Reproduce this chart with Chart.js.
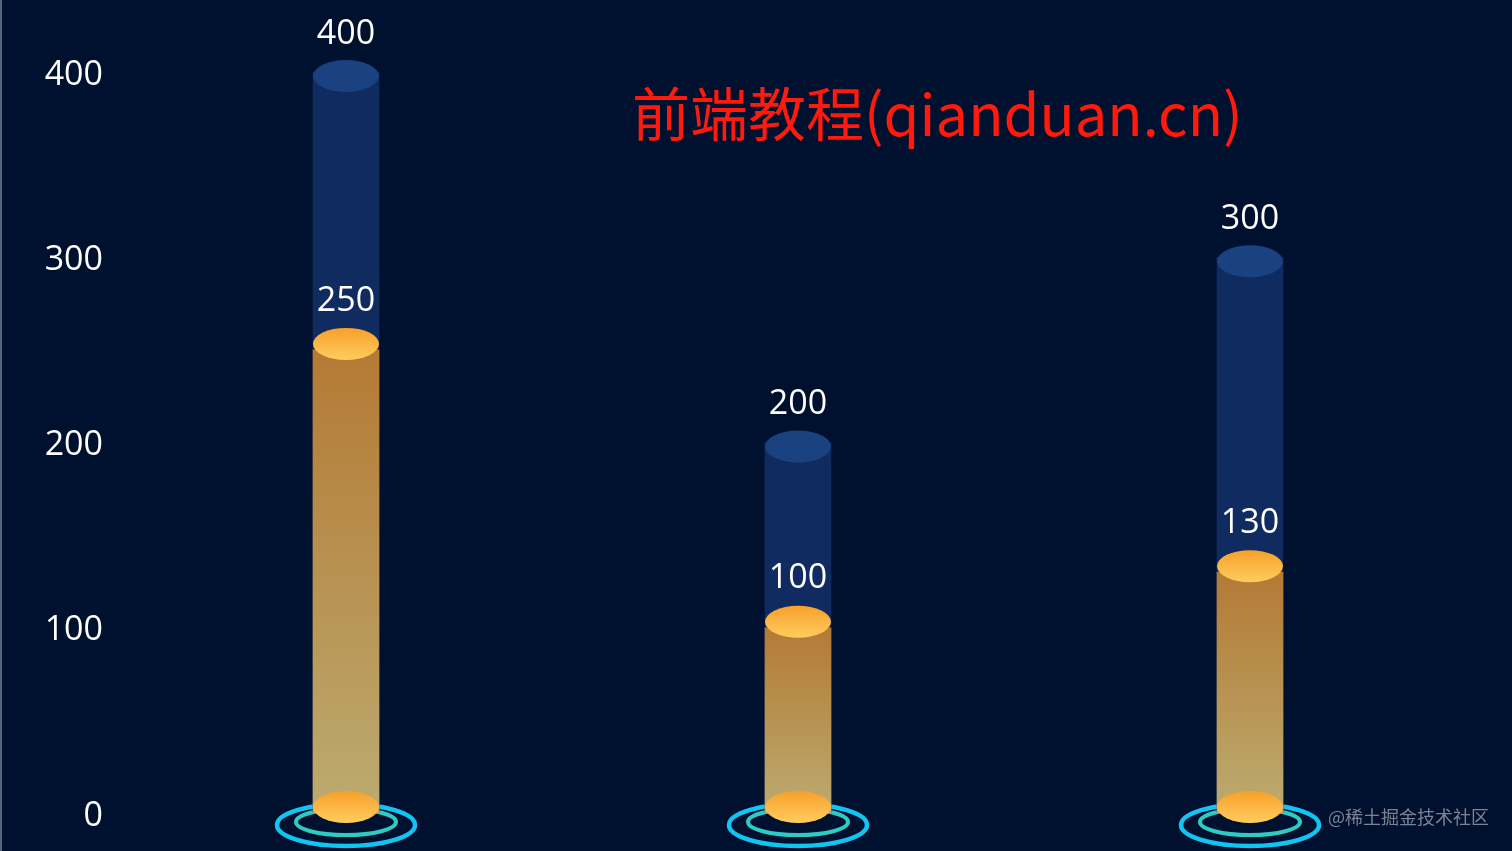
<!DOCTYPE html>
<html>
<head>
<meta charset="utf-8">
<script src="https://cdn.jsdelivr.net/npm/chart.js@4.4.1/dist/chart.umd.min.js"></script>
<style>
  html, body { margin: 0; padding: 0; background: #00102f; overflow: hidden; }
  #wrap { position: relative; width: 1512px; height: 851px; border-left: 2px solid #5a6479; box-sizing: border-box; }
  #title { position: absolute; left: 630px; top: 71px; color: #ff1a0d; font: 58px "Noto Sans CJK SC", sans-serif; line-height: 80px; white-space: nowrap; }
  #mark { position: absolute; left: 1326px; top: 803px; color: #7c8394; font: 18px "Noto Sans CJK SC", sans-serif; white-space: nowrap; }
</style>
</head>
<body>
<div id="wrap">
  <canvas id="c"></canvas>
  <div id="title">前端教程(qianduan.cn)</div>
  <div id="mark">@稀土掘金技术社区</div>
</div>
<script>
// data
const categories = ['A', 'B', 'C'];
const totalValues = [400, 200, 300];
const doneValues = [250, 100, 130];
const yTicks = [0, 100, 200, 300, 400];

const BLUE_BODY = '#0f2b60';
const BLUE_CAP = '#1a4180';
const NUM_FONT = '34px "Open Sans", sans-serif';

// orange body, lighter towards the base
function orangeBody(context) {
  const chart = context.chart;
  if (!chart.chartArea || context.parsed == null) return '#b88a45';
  const y = chart.scales.y;
  const top = y.getPixelForValue(context.parsed.y);
  const bottom = y.getPixelForValue(0);
  const g = chart.ctx.createLinearGradient(0, top, 0, bottom);
  g.addColorStop(0, '#b47a35');
  g.addColorStop(1, '#bcab70');
  return g;
}

function ellipse(ctx, x, y, rx, ry) {
  ctx.beginPath();
  ctx.ellipse(x, y, rx, ry, 0, 0, Math.PI * 2);
}

const cylinderPlugin = {
  id: 'cylinder',
  beforeDatasetsDraw(chart) {
    // rings under the base
    const { ctx } = chart;
    const base = chart.scales.y.getPixelForValue(0);
    chart.getDatasetMeta(1).data.forEach(bar => {
      ctx.save();
      ctx.lineWidth = 4.5;
      ctx.strokeStyle = '#12c4f2';
      ellipse(ctx, bar.x, base + 12, 69, 21);
      ctx.stroke();
      ctx.lineWidth = 4;
      ctx.strokeStyle = '#2fcac2';
      ellipse(ctx, bar.x, base + 9, 50, 13);
      ctx.stroke();
      ctx.restore();
    });
  },
  afterDatasetsDraw(chart) {
    const { ctx } = chart;
    const base = chart.scales.y.getPixelForValue(0);
    const blue = chart.getDatasetMeta(1).data;
    const orange = chart.getDatasetMeta(0).data;

    blue.forEach((bar, i) => {
      const rx = bar.width / 2;
      ctx.save();
      ctx.fillStyle = BLUE_CAP;
      ellipse(ctx, bar.x, bar.y + 4, rx, 16);
      ctx.fill();
      ctx.fillStyle = '#ffffff';
      ctx.font = NUM_FONT;
      ctx.textAlign = 'center';
      ctx.textBaseline = 'middle';
      ctx.fillText(String(totalValues[i]), bar.x, bar.y - 38);
      ctx.restore();
    });

    orange.forEach((bar, i) => {
      const rx = bar.width / 2;
      ctx.save();
      // bottom disc
      let g = ctx.createLinearGradient(0, base - 22, 0, base + 10);
      g.addColorStop(0, '#f7a02a');
      g.addColorStop(1, '#ffcc5e');
      ctx.fillStyle = g;
      ellipse(ctx, bar.x, base - 6, rx, 16);
      ctx.fill();
      // top cap
      g = ctx.createLinearGradient(0, bar.y - 22, 0, bar.y + 10);
      g.addColorStop(0, '#f7a02a');
      g.addColorStop(1, '#ffcc5e');
      ctx.fillStyle = g;
      ellipse(ctx, bar.x, bar.y - 6, rx, 16);
      ctx.fill();
      ctx.fillStyle = '#ffffff';
      ctx.font = NUM_FONT;
      ctx.textAlign = 'center';
      ctx.textBaseline = 'middle';
      ctx.fillText(String(doneValues[i]), bar.x, bar.y - 49);
      ctx.restore();
    });
  }
};

const chart = new Chart(document.getElementById('c'), {
  type: 'bar',
  data: {
    labels: categories,
    datasets: [
      {
        data: doneValues,
        backgroundColor: orangeBody,
        order: 0,
        grouped: false,
        barThickness: 66,
        borderWidth: 0
      },
      {
        data: totalValues,
        backgroundColor: BLUE_BODY,
        order: 1,
        grouped: false,
        barThickness: 66,
        borderWidth: 0
      }
    ]
  },
  options: {
    responsive: true,
    maintainAspectRatio: false,
    animation: false,
    layout: { padding: { top: 72, bottom: 38, right: 36, left: 0 } },
    plugins: {
      legend: { display: false },
      tooltip: { enabled: false }
    },
    scales: {
      x: { display: false },
      y: {
        min: 0,
        max: 400,
        afterFit: s => { s.width = 118; },
        afterBuildTicks: s => { s.ticks = yTicks.map(v => ({ value: v })); },
        border: { display: false },
        grid: { display: false },
        ticks: {
          color: '#ffffff',
          padding: 9,
          labelOffset: 3,
          font: { size: 34, family: '"Open Sans", sans-serif' }
        }
      }
    }
  },
  plugins: [cylinderPlugin]
});
</script>
</body>
</html>
